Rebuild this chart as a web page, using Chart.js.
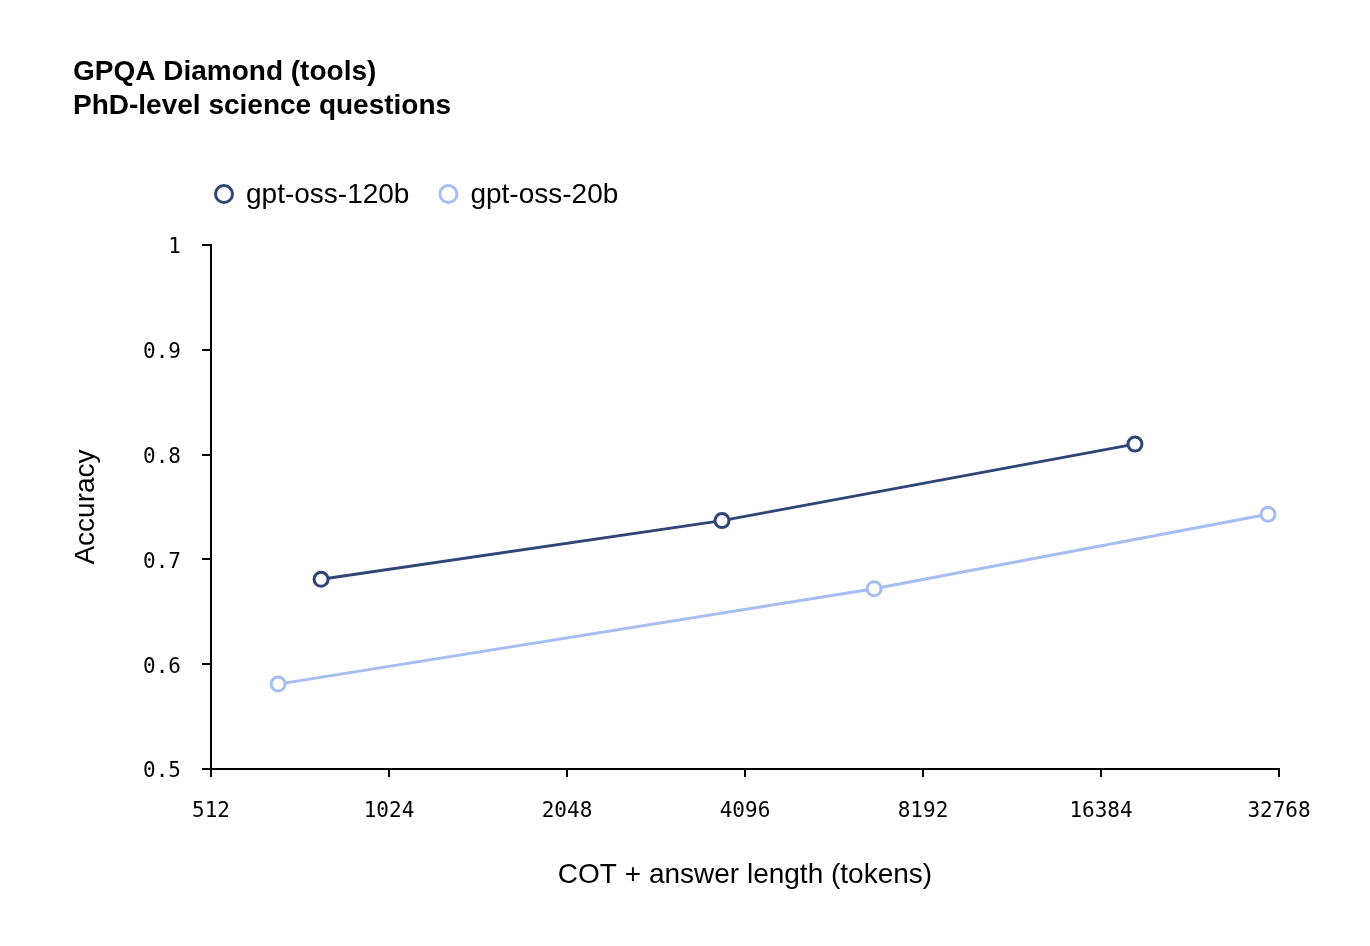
<!DOCTYPE html>
<html>
<head>
<meta charset="utf-8">
<script src="https://cdn.jsdelivr.net/npm/chart.js@4/dist/chart.umd.min.js"></script>
<style>
  html, body { margin: 0; padding: 0; background: #ffffff; }
  #wrap { width: 1370px; height: 946px; }
</style>
</head>
<body>
<div id="wrap"><canvas id="c" width="1370" height="946"></canvas></div>
<script>
// ---- data ----
const titleLines = ['GPQA Diamond (tools)', 'PhD-level science questions'];
const seriesNames = ['gpt-oss-120b', 'gpt-oss-20b'];
const tokens120b = [786, 3745, 18700];
const acc120b = [0.681, 0.737, 0.810];
const tokens20b = [665, 6770, 31400];
const acc20b = [0.581, 0.672, 0.743];
const xTicks = [512, 1024, 2048, 4096, 8192, 16384, 32768];
const yTicks = [0.5, 0.6, 0.7, 0.8, 0.9, 1];
const xTitle = 'COT + answer length (tokens)';
const yTitle = 'Accuracy';

const colors = ['#2F4577', '#A5BDF3'];
const sansFamily = '"Liberation Sans", Arial, sans-serif';
const monoFamily = '"DejaVu Sans Mono", "Liberation Mono", monospace';

function pts(xs, ys) { return xs.map((x, i) => ({ x: x, y: ys[i] })); }

const headerPlugin = {
  id: 'header',
  afterDraw(chart) {
    const ctx = chart.ctx;
    ctx.save();
    ctx.fillStyle = '#000000';
    ctx.textBaseline = 'middle';
    ctx.textAlign = 'left';
    ctx.font = 'bold 28px ' + sansFamily;
    titleLines.forEach((t, i) => ctx.fillText(t, 73, 72 + i * 34));
    // legend
    ctx.font = '28px ' + sansFamily;
    let x = 224;
    const y = 194;
    seriesNames.forEach((name, i) => {
      ctx.beginPath();
      ctx.arc(x, y, 8.5, 0, Math.PI * 2);
      ctx.fillStyle = '#ffffff';
      ctx.fill();
      ctx.lineWidth = 3;
      ctx.strokeStyle = colors[i];
      ctx.stroke();
      ctx.fillStyle = '#000000';
      ctx.fillText(name, x + 22, y + 1);
      x = x + 22 + ctx.measureText(name).width + 39;
    });
    ctx.restore();
  }
};

new Chart(document.getElementById('c'), {
  type: 'line',
  data: {
    datasets: [
      {
        label: seriesNames[0],
        data: pts(tokens120b, acc120b),
        borderColor: colors[0],
        backgroundColor: '#ffffff',
        borderWidth: 3,
        pointRadius: 7,
        pointBorderWidth: 3,
        pointBackgroundColor: '#ffffff',
        pointBorderColor: colors[0],
        tension: 0
      },
      {
        label: seriesNames[1],
        data: pts(tokens20b, acc20b),
        borderColor: colors[1],
        backgroundColor: '#ffffff',
        borderWidth: 3,
        pointRadius: 7,
        pointBorderWidth: 3,
        pointBackgroundColor: '#ffffff',
        pointBorderColor: colors[1],
        tension: 0
      }
    ]
  },
  options: {
    responsive: false,
    animation: false,
    devicePixelRatio: 1,
    layout: { padding: { top: 245, right: 91, left: 0, bottom: 0 } },
    plugins: {
      legend: { display: false },
      title: { display: false },
      tooltip: { enabled: false }
    },
    scales: {
      x: {
        type: 'logarithmic',
        min: xTicks[0],
        max: xTicks[xTicks.length - 1],
        afterBuildTicks(scale) { scale.ticks = xTicks.map(v => ({ value: v })); },
        afterFit(scale) { scale.height = 177; },
        grid: { drawOnChartArea: false, drawTicks: true, tickLength: 8, color: '#000000', lineWidth: 2 },
        border: { display: true, color: '#000000', width: 2 },
        ticks: {
          autoSkip: false,
          maxRotation: 0,
          padding: 22,
          color: '#000000',
          font: { family: monoFamily, size: 21 },
          callback: (v) => String(v)
        },
        title: {
          display: true,
          text: xTitle,
          color: '#000000',
          font: { family: sansFamily, size: 28, lineHeight: 1.2 },
          padding: { top: 0, bottom: 54 }
        }
      },
      y: {
        type: 'linear',
        min: yTicks[0],
        max: yTicks[yTicks.length - 1],
        afterBuildTicks(scale) { scale.ticks = yTicks.map(v => ({ value: v })); },
        afterFit(scale) { scale.width = 211; },
        grid: { drawOnChartArea: false, drawTicks: true, tickLength: 9, color: '#000000', lineWidth: 2 },
        border: { display: true, color: '#000000', width: 2 },
        ticks: {
          padding: 21,
          labelOffset: 3,
          color: '#000000',
          font: { family: monoFamily, size: 21 },
          callback: (v) => String(Number(v.toFixed(1)))
        },
        title: {
          display: true,
          text: yTitle,
          color: '#000000',
          font: { family: sansFamily, size: 28, lineHeight: 1.2 },
          padding: { top: 69, bottom: 0 }
        }
      }
    }
  },
  plugins: [headerPlugin]
});
</script>
</body>
</html>
